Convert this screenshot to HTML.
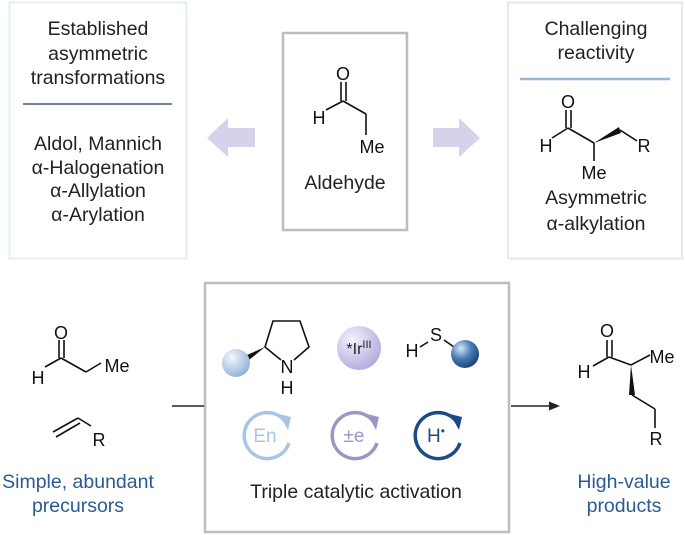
<!DOCTYPE html>
<html><head><meta charset="utf-8"><style>
html,body{margin:0;padding:0;background:#fff;}
svg{display:block;}
text{font-family:"Liberation Sans",Arial,sans-serif;}
</style></head><body>
<svg width="685" height="535" viewBox="0 0 685 535" xmlns="http://www.w3.org/2000/svg">
<defs>
<radialGradient id="gl" cx="0.35" cy="0.3" r="0.75"><stop offset="0" stop-color="#f2f7fd"/><stop offset="1" stop-color="#8fb1d8"/></radialGradient>
<radialGradient id="gp" cx="0.35" cy="0.3" r="0.75"><stop offset="0" stop-color="#f4f1fb"/><stop offset="1" stop-color="#b3a9dc"/></radialGradient>
<radialGradient id="gd" cx="0.35" cy="0.3" r="0.75"><stop offset="0" stop-color="#d9e7f6"/><stop offset="0.5" stop-color="#4c7cb8"/><stop offset="1" stop-color="#173f78"/></radialGradient>
</defs>
<rect x="9.5" y="2.5" width="177" height="256" fill="#fff" stroke="#e3f0f8" stroke-width="2"/>
<rect x="283" y="33" width="124" height="197" fill="#fff" stroke="#bdbdbd" stroke-width="2.5"/>
<rect x="508" y="2.5" width="174" height="256" fill="#fff" stroke="#e8e8e8" stroke-width="2"/>
<g font-size="19.5" fill="#222" text-anchor="middle">
<text x="98" y="35">Established</text>
<text x="98" y="60">asymmetric</text>
<text x="98" y="84">transformations</text>
<text x="98" y="150">Aldol, Mannich</text>
<text x="98" y="174">α-Halogenation</text>
<text x="98" y="197">α-Allylation</text>
<text x="98" y="221">α-Arylation</text>
<text x="345" y="189">Aldehyde</text>
<text x="596" y="35">Challenging</text>
<text x="596" y="59">reactivity</text>
<text x="596" y="204">Asymmetric</text>
<text x="596" y="230">α-alkylation</text>
</g>
<line x1="23" y1="104" x2="172" y2="104" stroke="#3b5b84" stroke-width="1.5"/>
<line x1="520" y1="79" x2="670" y2="79" stroke="#9db6d7" stroke-width="2.5"/>
<polygon points="207,138 228,118 228,128 255,128 255,147 228,147 228,157" fill="#d6d2ec"/>
<polygon points="480,138 459,118 459,128 433,128 433,147 459,147 459,157" fill="#d6d2ec"/>
<g stroke="#111" stroke-width="1.6" fill="none">
<line x1="341" y1="82" x2="341" y2="101"/><line x1="346" y1="82" x2="346" y2="101"/>
<line x1="326" y1="110" x2="343" y2="101"/><line x1="343" y1="101" x2="366" y2="114"/><line x1="366" y1="114" x2="366" y2="135"/>
</g>
<g font-size="18" fill="#111" text-anchor="middle">
<text x="343" y="80">O</text><text x="319" y="124">H</text><text x="372" y="153">Me</text>
</g>
<g stroke="#111" stroke-width="1.6" fill="none">
<line x1="566" y1="110" x2="566" y2="128"/><line x1="571" y1="110" x2="571" y2="128"/>
<line x1="552" y1="138" x2="568" y2="128"/><line x1="568" y1="128" x2="594" y2="143"/>
<line x1="594" y1="143" x2="594" y2="161"/><line x1="620" y1="130" x2="637" y2="141"/>
</g>
<polygon points="594,143 619,127 621,133" fill="#111"/>
<g font-size="18" fill="#111" text-anchor="middle">
<text x="568" y="108">O</text><text x="546" y="152">H</text><text x="644" y="152">R</text><text x="594" y="179">Me</text>
</g>
<rect x="205" y="283" width="304" height="249" fill="#fff" stroke="#bdbdbd" stroke-width="2.5"/>
<line x1="172" y1="406" x2="204" y2="406" stroke="#222" stroke-width="1.4"/>
<line x1="511" y1="406" x2="552" y2="406" stroke="#222" stroke-width="1.4"/>
<polygon points="560,406 549,401.5 549,410.5" fill="#222"/>
<g stroke="#111" stroke-width="1.6" fill="none">
<line x1="59" y1="340" x2="59" y2="358"/><line x1="64" y1="340" x2="64" y2="358"/>
<line x1="45" y1="367" x2="61" y2="358"/><line x1="61" y1="358" x2="86" y2="372"/><line x1="86" y1="372" x2="101" y2="363"/>
<line x1="53" y1="432" x2="78" y2="418"/><line x1="56" y1="437" x2="80" y2="423"/><line x1="78" y1="418" x2="91" y2="426"/>
</g>
<g font-size="18" fill="#111" text-anchor="middle">
<text x="61" y="339">O</text><text x="38" y="384">H</text><text x="117" y="372">Me</text><text x="99" y="446">R</text>
<text x="287" y="373">N</text><text x="287" y="394">H</text>
<text x="412" y="357">H</text><text x="436" y="341">S</text>
<text x="607" y="337">O</text><text x="584" y="378">H</text><text x="662" y="363">Me</text><text x="656" y="445">R</text>
</g>
<g font-size="19.5" fill="#2c5a94" text-anchor="middle">
<text x="78" y="488">Simple, abundant</text><text x="78" y="512">precursors</text>
<text x="624" y="488">High-value</text><text x="624" y="512">products</text>
</g>
<g stroke="#111" stroke-width="1.6" fill="none">
<polyline points="281,360 265,347 273,321 300,321 309,347 294,360"/>
<line x1="420" y1="347" x2="428" y2="342"/><line x1="444" y1="340" x2="454" y2="347"/>
<line x1="607" y1="340" x2="607" y2="357"/><line x1="612" y1="340" x2="612" y2="357"/>
<line x1="593" y1="366" x2="609" y2="357"/><line x1="609" y1="357" x2="631" y2="365"/><line x1="631" y1="365" x2="650" y2="355"/>
<line x1="632" y1="395" x2="655" y2="409"/><line x1="655" y1="409" x2="655" y2="428"/>
</g>
<polygon points="265,347 247,355 249,360" fill="#111"/>
<polygon points="631,365 629,395 635,395" fill="#111"/>
<circle cx="236" cy="363" r="14" fill="url(#gl)"/>
<circle cx="359" cy="348" r="22" fill="url(#gp)"/>
<text x="359" y="354" font-size="16" fill="#222" text-anchor="middle">*Ir<tspan font-size="11" dy="-6">III</tspan></text>
<circle cx="465" cy="354" r="14" fill="url(#gd)"/>
<g fill="none" stroke-width="3.5">
<path d="M289,443 A23,23 0 1 1 285,421" stroke="#a9c4e4"/>
<path d="M377,443 A23,23 0 1 1 373,421" stroke="#9c97c2"/>
<path d="M460,443 A23,23 0 1 1 456,421" stroke="#1c4a86"/>
</g>
<polygon points="279,414 291,417 288,430" fill="#a9c4e4"/>
<polygon points="367,414 379,417 376,430" fill="#9c97c2"/>
<polygon points="450,414 462,417 459,430" fill="#1c4a86"/>
<g font-size="19" text-anchor="middle">
<text x="265" y="442" fill="#a9c4e4">En</text>
<text x="354" y="442" fill="#9c97c2">±e</text>
<text x="436" y="442" fill="#1c4a86">H<tspan font-size="12" dy="-7">•</tspan></text>
</g>
<text x="356" y="498" font-size="19.5" fill="#222" text-anchor="middle">Triple catalytic activation</text>
</svg>
</body></html>
